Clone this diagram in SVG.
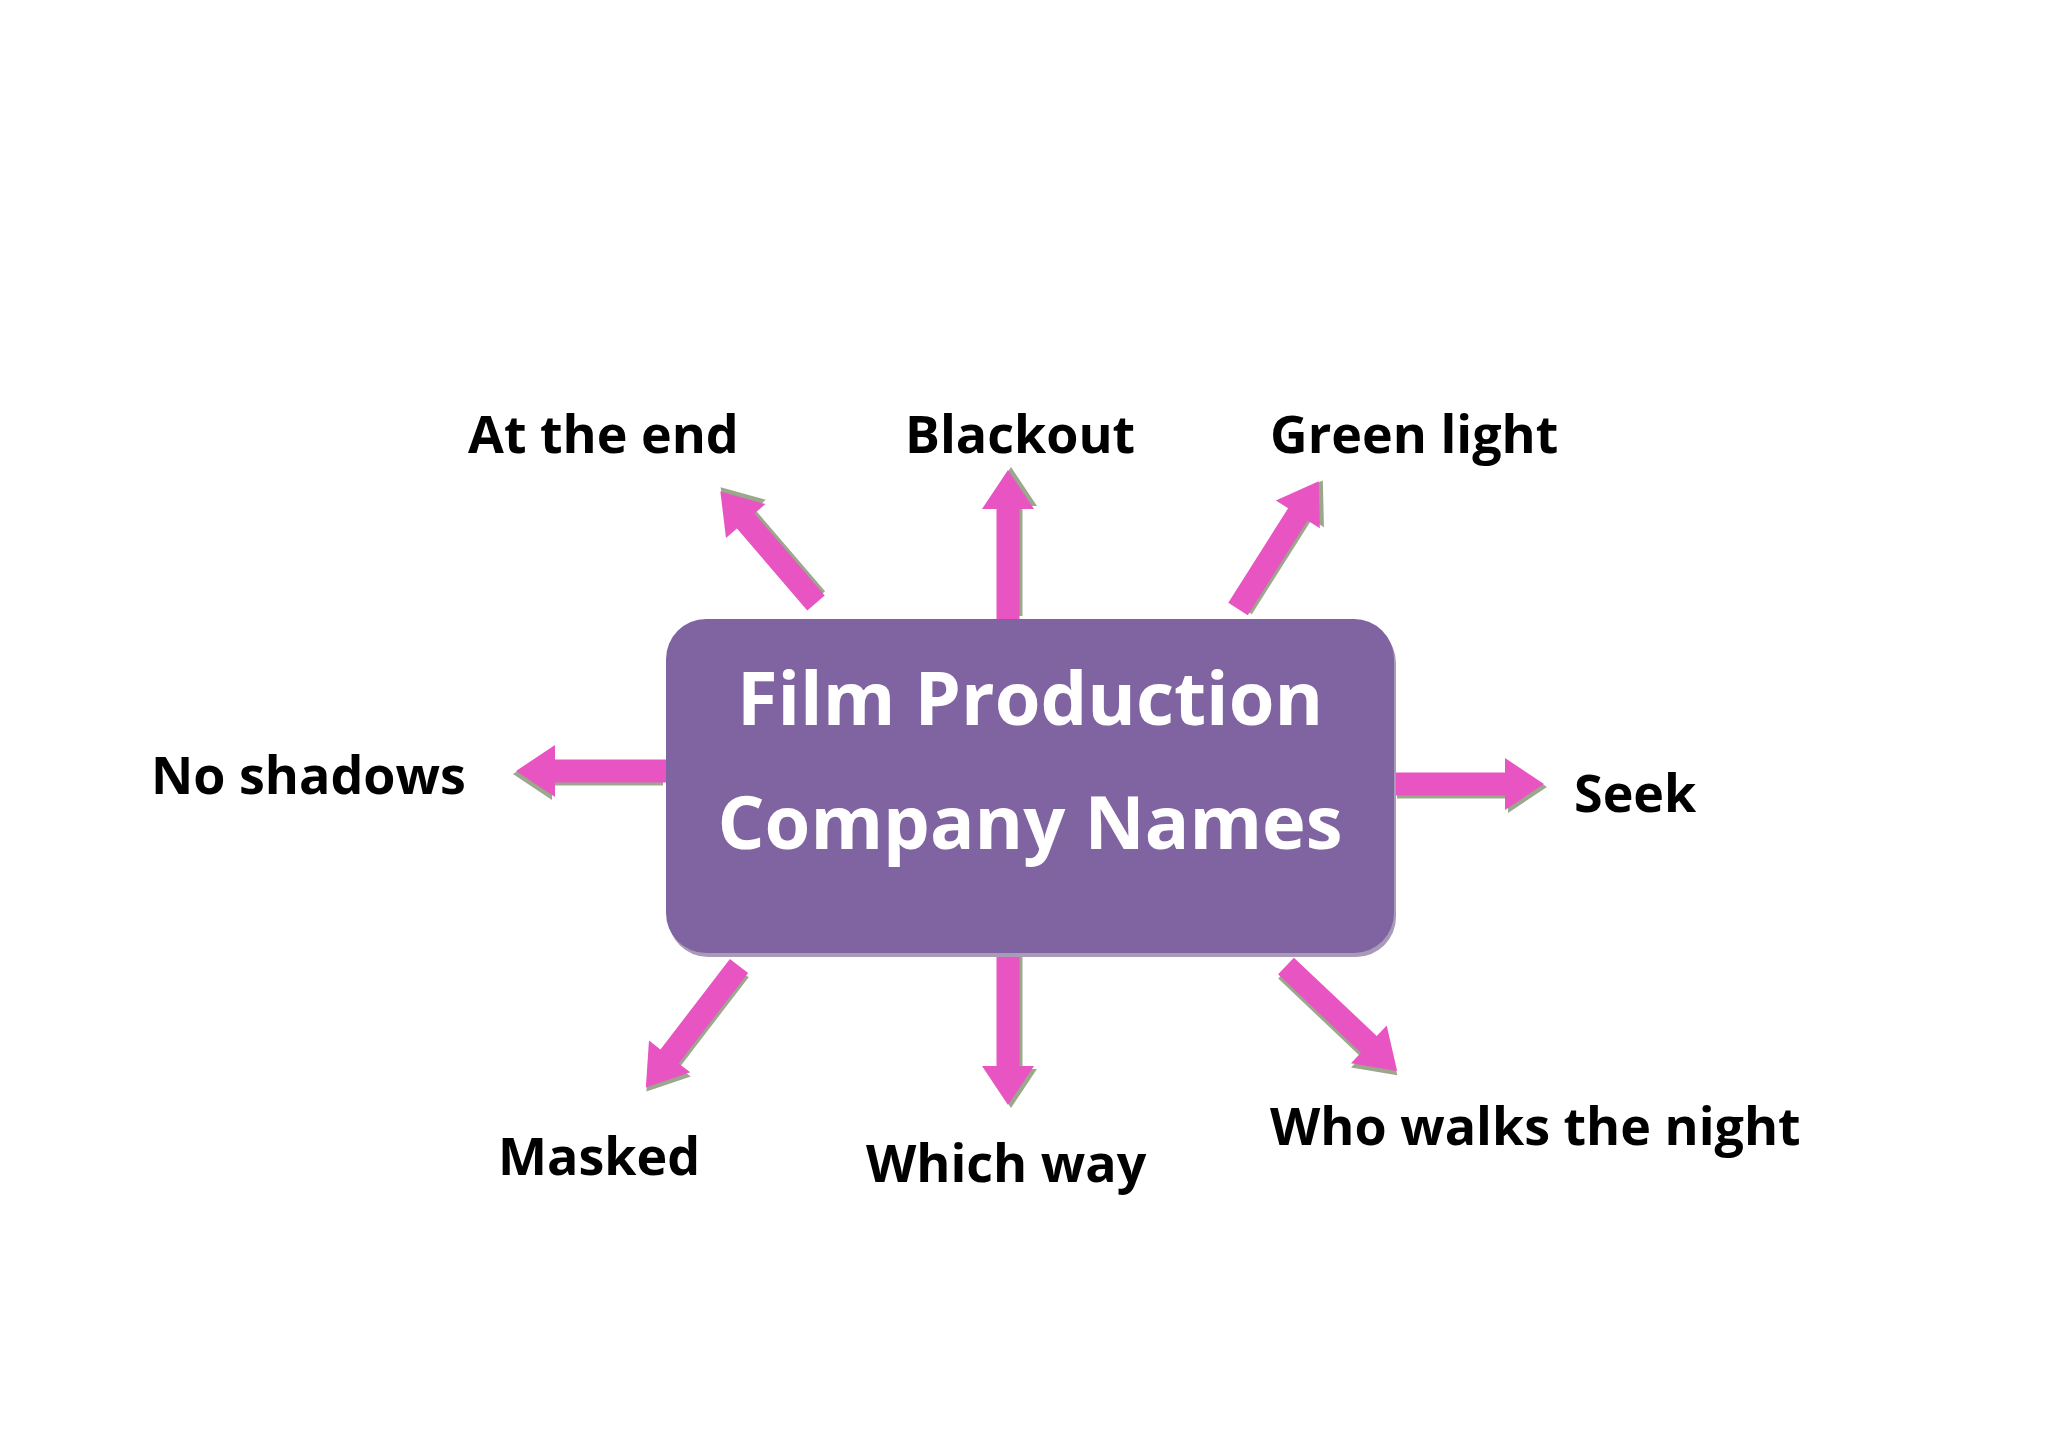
<svg xmlns="http://www.w3.org/2000/svg" width="2048" height="1448" viewBox="0 0 2048 1448">
<style>
.lbl{font-family:"Open Sans","Liberation Sans",sans-serif;font-weight:bold;font-size:52px;fill:#000}
.ttl{font-family:"Open Sans","Liberation Sans",sans-serif;font-weight:bold;font-size:74px;fill:#fff;text-anchor:middle}
.arr{fill:#E854C1}
.sh{fill:#9BA88C}
</style>
<rect width="2048" height="1448" fill="#fff"/>
<g id="connectors">
<g transform="translate(1008,619) rotate(-90)"><path class="sh" transform="translate(3,3)" d="M0,-11.5H110V-26L149,0L110,26V11.5H0Z"/><path class="arr" d="M0,-11.5H110V-26L149,0L110,26V11.5H0Z"/></g>
<g transform="translate(816,603) rotate(-130.6)"><path class="sh" transform="translate(3,3)" d="M0,-11.5H108V-26L147,0L108,26V11.5H0Z"/><path class="arr" d="M0,-11.5H108V-26L147,0L108,26V11.5H0Z"/></g>
<g transform="translate(1238,609) rotate(-57.7)"><path class="sh" transform="translate(3,3)" d="M0,-11.5H112V-26L151,0L112,26V11.5H0Z"/><path class="arr" d="M0,-11.5H112V-26L151,0L112,26V11.5H0Z"/></g>
<g transform="translate(666,771) rotate(180)"><path class="sh" transform="translate(3,-3)" d="M0,-11.5H111V-26L150,0L111,26V11.5H0Z"/><path class="arr" d="M0,-11.5H111V-26L150,0L111,26V11.5H0Z"/></g>
<g transform="translate(1394,784)"><path class="sh" transform="translate(3,3)" d="M0,-11.5H111V-26L150,0L111,26V11.5H0Z"/><path class="arr" d="M0,-11.5H111V-26L150,0L111,26V11.5H0Z"/></g>
<g transform="translate(739,966) rotate(127.5)"><path class="sh" transform="translate(3,-3)" d="M0,-11.5H114V-26L153,0L114,26V11.5H0Z"/><path class="arr" d="M0,-11.5H114V-26L153,0L114,26V11.5H0Z"/></g>
<g transform="translate(1008,953) rotate(90)"><path class="sh" transform="translate(3,-3)" d="M0,-11.5H113V-26L152,0L113,26V11.5H0Z"/><path class="arr" d="M0,-11.5H113V-26L152,0L113,26V11.5H0Z"/></g>
<g transform="translate(1286,966) rotate(43.4)"><path class="sh" transform="translate(3,3)" d="M0,-11.5H114V-26L153,0L114,26V11.5H0Z"/><path class="arr" d="M0,-11.5H114V-26L153,0L114,26V11.5H0Z"/></g>
</g>
<g id="center">
<rect x="668" y="623" width="728" height="334" rx="40" fill="#A99BB8"/>
<rect x="666" y="619" width="728" height="334" rx="40" fill="#8064A2"/>
<text class="ttl" x="1030" y="725">Film Production</text>
<text class="ttl" x="1030" y="849">Company Names</text>
</g>
<g id="n1"><text class="lbl" x="468" y="453">At the end</text></g>
<g id="n2"><text class="lbl" x="905" y="453">Blackout</text></g>
<g id="n3"><text class="lbl" x="1270" y="453">Green light</text></g>
<g id="n4"><text class="lbl" x="151" y="794">No shadows</text></g>
<g id="n5"><text class="lbl" x="1574" y="812">Seek</text></g>
<g id="n6"><text class="lbl" x="498" y="1175">Masked</text></g>
<g id="n7"><text class="lbl" x="866" y="1182">Which way</text></g>
<g id="n8"><text class="lbl" x="1270" y="1145">Who walks the night</text></g>
</svg>
